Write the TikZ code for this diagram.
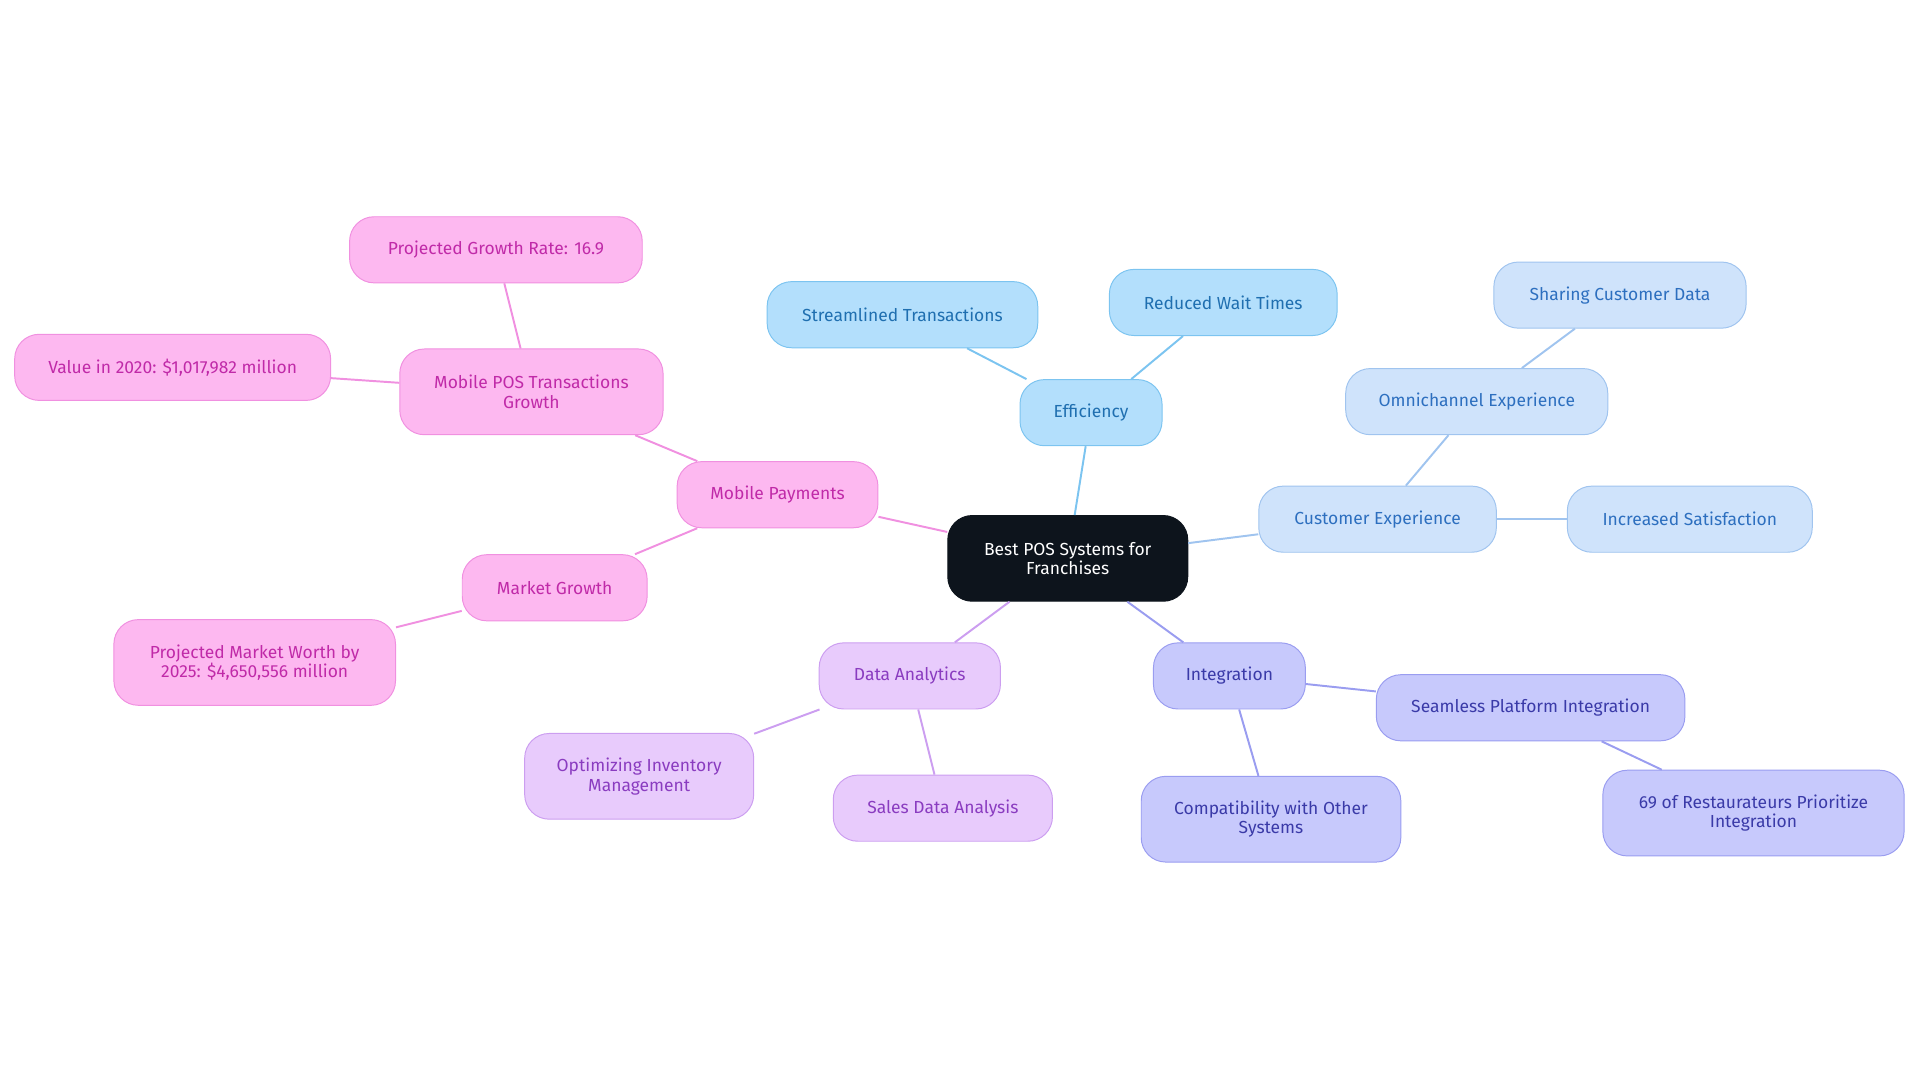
\documentclass[tikz,border=0pt]{standalone}
\usepackage{fontspec}
\setmainfont{Fira Sans}[Scale=0.95]
\definecolor{rootfill}{HTML}{0D141C}
\definecolor{effFill}{HTML}{B3DFFC}\definecolor{effLine}{HTML}{7CC4F0}\definecolor{effText}{HTML}{1F6FB0}
\definecolor{cusFill}{HTML}{CFE3FB}\definecolor{cusLine}{HTML}{A0C4EF}\definecolor{cusText}{HTML}{2D6FBF}
\definecolor{intFill}{HTML}{C7C9FC}\definecolor{intLine}{HTML}{9A9DF0}\definecolor{intText}{HTML}{3A3AA8}
\definecolor{datFill}{HTML}{E8CBFC}\definecolor{datLine}{HTML}{CC9EF0}\definecolor{datText}{HTML}{8A3CC0}
\definecolor{mobFill}{HTML}{FDB8F0}\definecolor{mobLine}{HTML}{F090E0}\definecolor{mobText}{HTML}{C02AA8}
\tikzset{
  box/.style={rounded corners=20pt, draw, line width=0.8pt, align=center, inner sep=0pt, font=\fontsize{15}{16}\selectfont, minimum height=54pt},
  tall/.style={minimum height=70pt},
  root/.style={box, fill=rootfill, draw=rootfill, text=white},
  eff/.style={box, fill=effFill, draw=effLine, text=effText},
  cus/.style={box, fill=cusFill, draw=cusLine, text=cusText},
  int/.style={box, fill=intFill, draw=intLine, text=intText},
  dat/.style={box, fill=datFill, draw=datLine, text=datText},
  mob/.style={box, fill=mobFill, draw=mobLine, text=mobText},
}
\begin{document}
\begin{tikzpicture}[x=1pt, y=-1pt]
	\useasboundingbox (0,0) rectangle (1568,884);

	\node[root, tall, minimum width=196pt] (pos) at (872,456) {Best POS Systems for\\Franchises};

	\node[eff, minimum width=116pt] (eff) at (891,337) {Efficiency};
	\node[eff, minimum width=221pt] (eff1) at (737,257) {Streamlined Transactions};
	\node[eff, minimum width=186pt] (eff2) at (999,247) {Reduced Wait Times};

	\node[cus, minimum width=194pt] (cus) at (1125,424) {Customer Experience};
	\node[cus, minimum width=214pt] (cus1) at (1206,328) {Omnichannel Experience};
	\node[cus, minimum width=206pt] (cus2) at (1323,241) {Sharing Customer Data};
	\node[cus, minimum width=200pt] (cus3) at (1380,424) {Increased Satisfaction};

	\node[int, minimum width=124pt] (int) at (1004,552) {Integration};
	\node[int, minimum width=252pt] (int1) at (1250,578) {Seamless Platform Integration};
	\node[int, tall, minimum width=212pt] (int2) at (1038,669) {Compatibility with Other\\Systems};
	\node[int, tall, minimum width=246pt] (int3) at (1432,664) {69 of Restaurateurs Prioritize\\Integration};

	\node[dat, minimum width=148pt] (dat) at (743,552) {Data Analytics};
	\node[dat, tall, minimum width=187pt] (dat1) at (522,634) {Optimizing Inventory\\Management};
	\node[dat, minimum width=179pt] (dat2) at (770,660) {Sales Data Analysis};

	\node[mob, minimum width=164pt] (mob) at (635,404) {Mobile Payments};
	\node[mob, tall, minimum width=215pt] (mob1) at (434,320) {Mobile POS Transactions\\Growth};
	\node[mob, minimum width=239pt] (mob2) at (405,204) {Projected Growth Rate: 16.9};
	\node[mob, minimum width=258pt] (mob3) at (141,300) {Value in 2020: \$1,017,982 million};
	\node[mob, minimum width=151pt] (mob4) at (453,480) {Market Growth};
	\node[mob, tall, minimum width=230pt] (mob5) at (208,541) {Projected Market Worth by\\2025: \$4,650,556 million};

	\begin{scope}[on background layer/.code={}, line width=1.6pt]
	\draw[effLine] (pos) -- (eff);
	\draw[effLine] (eff) -- (eff1);
	\draw[effLine] (eff) -- (eff2);
	\draw[cusLine] (pos) -- (cus);
	\draw[cusLine] (cus) -- (cus1);
	\draw[cusLine] (cus1) -- (cus2);
	\draw[cusLine] (cus) -- (cus3);
	\draw[intLine] (pos) -- (int);
	\draw[intLine] (int) -- (int1);
	\draw[intLine] (int) -- (int2);
	\draw[intLine] (int1) -- (int3);
	\draw[datLine] (pos) -- (dat);
	\draw[datLine] (dat) -- (dat1);
	\draw[datLine] (dat) -- (dat2);
	\draw[mobLine] (pos) -- (mob);
	\draw[mobLine] (mob) -- (mob1);
	\draw[mobLine] (mob1) -- (mob2);
	\draw[mobLine] (mob1) -- (mob3);
	\draw[mobLine] (mob) -- (mob4);
	\draw[mobLine] (mob4) -- (mob5);
	\end{scope}

\end{tikzpicture}
\end{document}
